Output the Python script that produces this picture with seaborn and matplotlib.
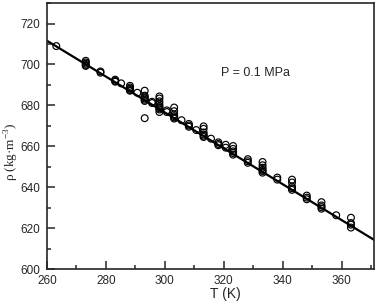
import matplotlib
matplotlib.use("Agg")
import matplotlib.pyplot as plt
import seaborn as sns
import pandas as pd
from matplotlib.ticker import MultipleLocator

# measured densities at P = 0.1 MPa (T in K, rho in kg/m3)
T_meas = [263.15,
          273.15, 273.15, 273.15, 273.15, 273.15,
          278.15, 278.15,
          283.15, 283.15, 283.15,
          285.15,
          288.15, 288.15, 288.15, 288.15, 288.15,
          290.65,
          293.15, 293.15, 293.15, 293.15, 293.15, 293.15, 293.15,
          295.65, 295.65,
          298.15, 298.15, 298.15, 298.15, 298.15, 298.15, 298.15, 298.15, 298.15,
          300.65, 300.65,
          303.15, 303.15, 303.15, 303.15, 303.15, 303.15,
          305.65,
          308.15, 308.15, 308.15,
          310.65,
          313.15, 313.15, 313.15, 313.15, 313.15, 313.15,
          315.65,
          318.15, 318.15, 318.15,
          320.65, 320.65,
          323.15, 323.15, 323.15, 323.15, 323.15,
          328.15, 328.15, 328.15,
          333.15, 333.15, 333.15, 333.15, 333.15, 333.15,
          338.15, 338.15,
          343.15, 343.15, 343.15, 343.15, 343.15,
          348.15, 348.15, 348.15,
          353.15, 353.15, 353.15, 353.15,
          358.15,
          363.15, 363.15, 363.15, 363.15]
rho_meas = [709.0,
            701.8, 701.0, 700.4, 699.8, 699.3,
            696.6, 696.0,
            692.6, 692.0, 691.6,
            690.8,
            689.6, 688.8, 688.2, 687.6, 687.2,
            686.2,
            687.2, 684.8, 684.0, 683.4, 682.8, 682.2, 673.8,
            681.8, 681.2,
            684.4, 683.4, 682.0, 680.8, 679.8, 679.2, 678.6, 678.0, 676.8,
            677.6, 676.8,
            679.0, 677.2, 675.6, 674.8, 674.2, 673.6,
            672.8,
            671.0, 670.2, 669.6,
            668.0,
            669.8, 668.6, 666.8, 665.8, 665.2, 664.6,
            663.8,
            662.0, 661.2, 660.6,
            660.8, 659.4,
            660.2, 658.8, 657.6, 656.8, 656.0,
            653.8, 652.8, 652.0,
            652.4, 650.8, 649.6, 648.6, 648.0, 647.2,
            644.8, 643.8,
            643.8, 642.4, 640.4, 639.6, 638.8,
            636.0, 635.0, 634.2,
            632.8, 631.2, 630.4, 629.6,
            626.4,
            625.2, 622.6, 621.8, 620.4]

# correlation line
T_fit = [260, 371]
rho_fit = [711.6, 614.4]

sns.set_style("ticks")
plt.rcParams["font.family"] = ["Liberation Sans", "DejaVu Sans"]
plt.rcParams["mathtext.fontset"] = "custom"
plt.rcParams["mathtext.rm"] = "Liberation Serif"

fig = plt.figure(figsize=(3.79, 3.04), dpi=100)
ax = fig.add_axes([0.124, 0.114, 0.863, 0.876])

meas = pd.DataFrame({"T": T_meas, "rho": rho_meas})
fit = pd.DataFrame({"T": T_fit, "rho": rho_fit})

sns.lineplot(data=fit, x="T", y="rho", color="black", linewidth=1.6, ax=ax, zorder=2)
sns.scatterplot(data=meas, x="T", y="rho", marker="o", s=24, facecolors="none",
                edgecolor="black", linewidth=0.85, ax=ax, zorder=3)

ax.set_xlim(260, 371)
ax.set_ylim(600, 730)
ax.xaxis.set_major_locator(MultipleLocator(20))
ax.xaxis.set_minor_locator(MultipleLocator(10))
ax.yaxis.set_major_locator(MultipleLocator(20))
ax.yaxis.set_minor_locator(MultipleLocator(10))
ax.tick_params(which="both", direction="in", labelsize=8.5, width=1.1)
ax.tick_params(which="major", length=5.5)
ax.tick_params(which="minor", length=3)
ax.tick_params(axis="x", pad=4)
ax.tick_params(axis="y", pad=5)
for s in ax.spines.values():
    s.set_linewidth(1.2)
    s.set_visible(True)

ax.set_xlabel("T (K)", fontsize=10, va="center")
ax.xaxis.set_label_coords(0.544, -0.093)
ax.set_ylabel("ρ (kg·m$^{-3}$)", fontsize=9.5, va="center",
              family=["Liberation Serif", "DejaVu Serif"])
ax.yaxis.set_label_coords(-0.107, 0.44)

ax.text(319, 696, "P = 0.1 MPa", fontsize=9, ha="left", va="center")

fig.savefig("out.png", dpi=100)
